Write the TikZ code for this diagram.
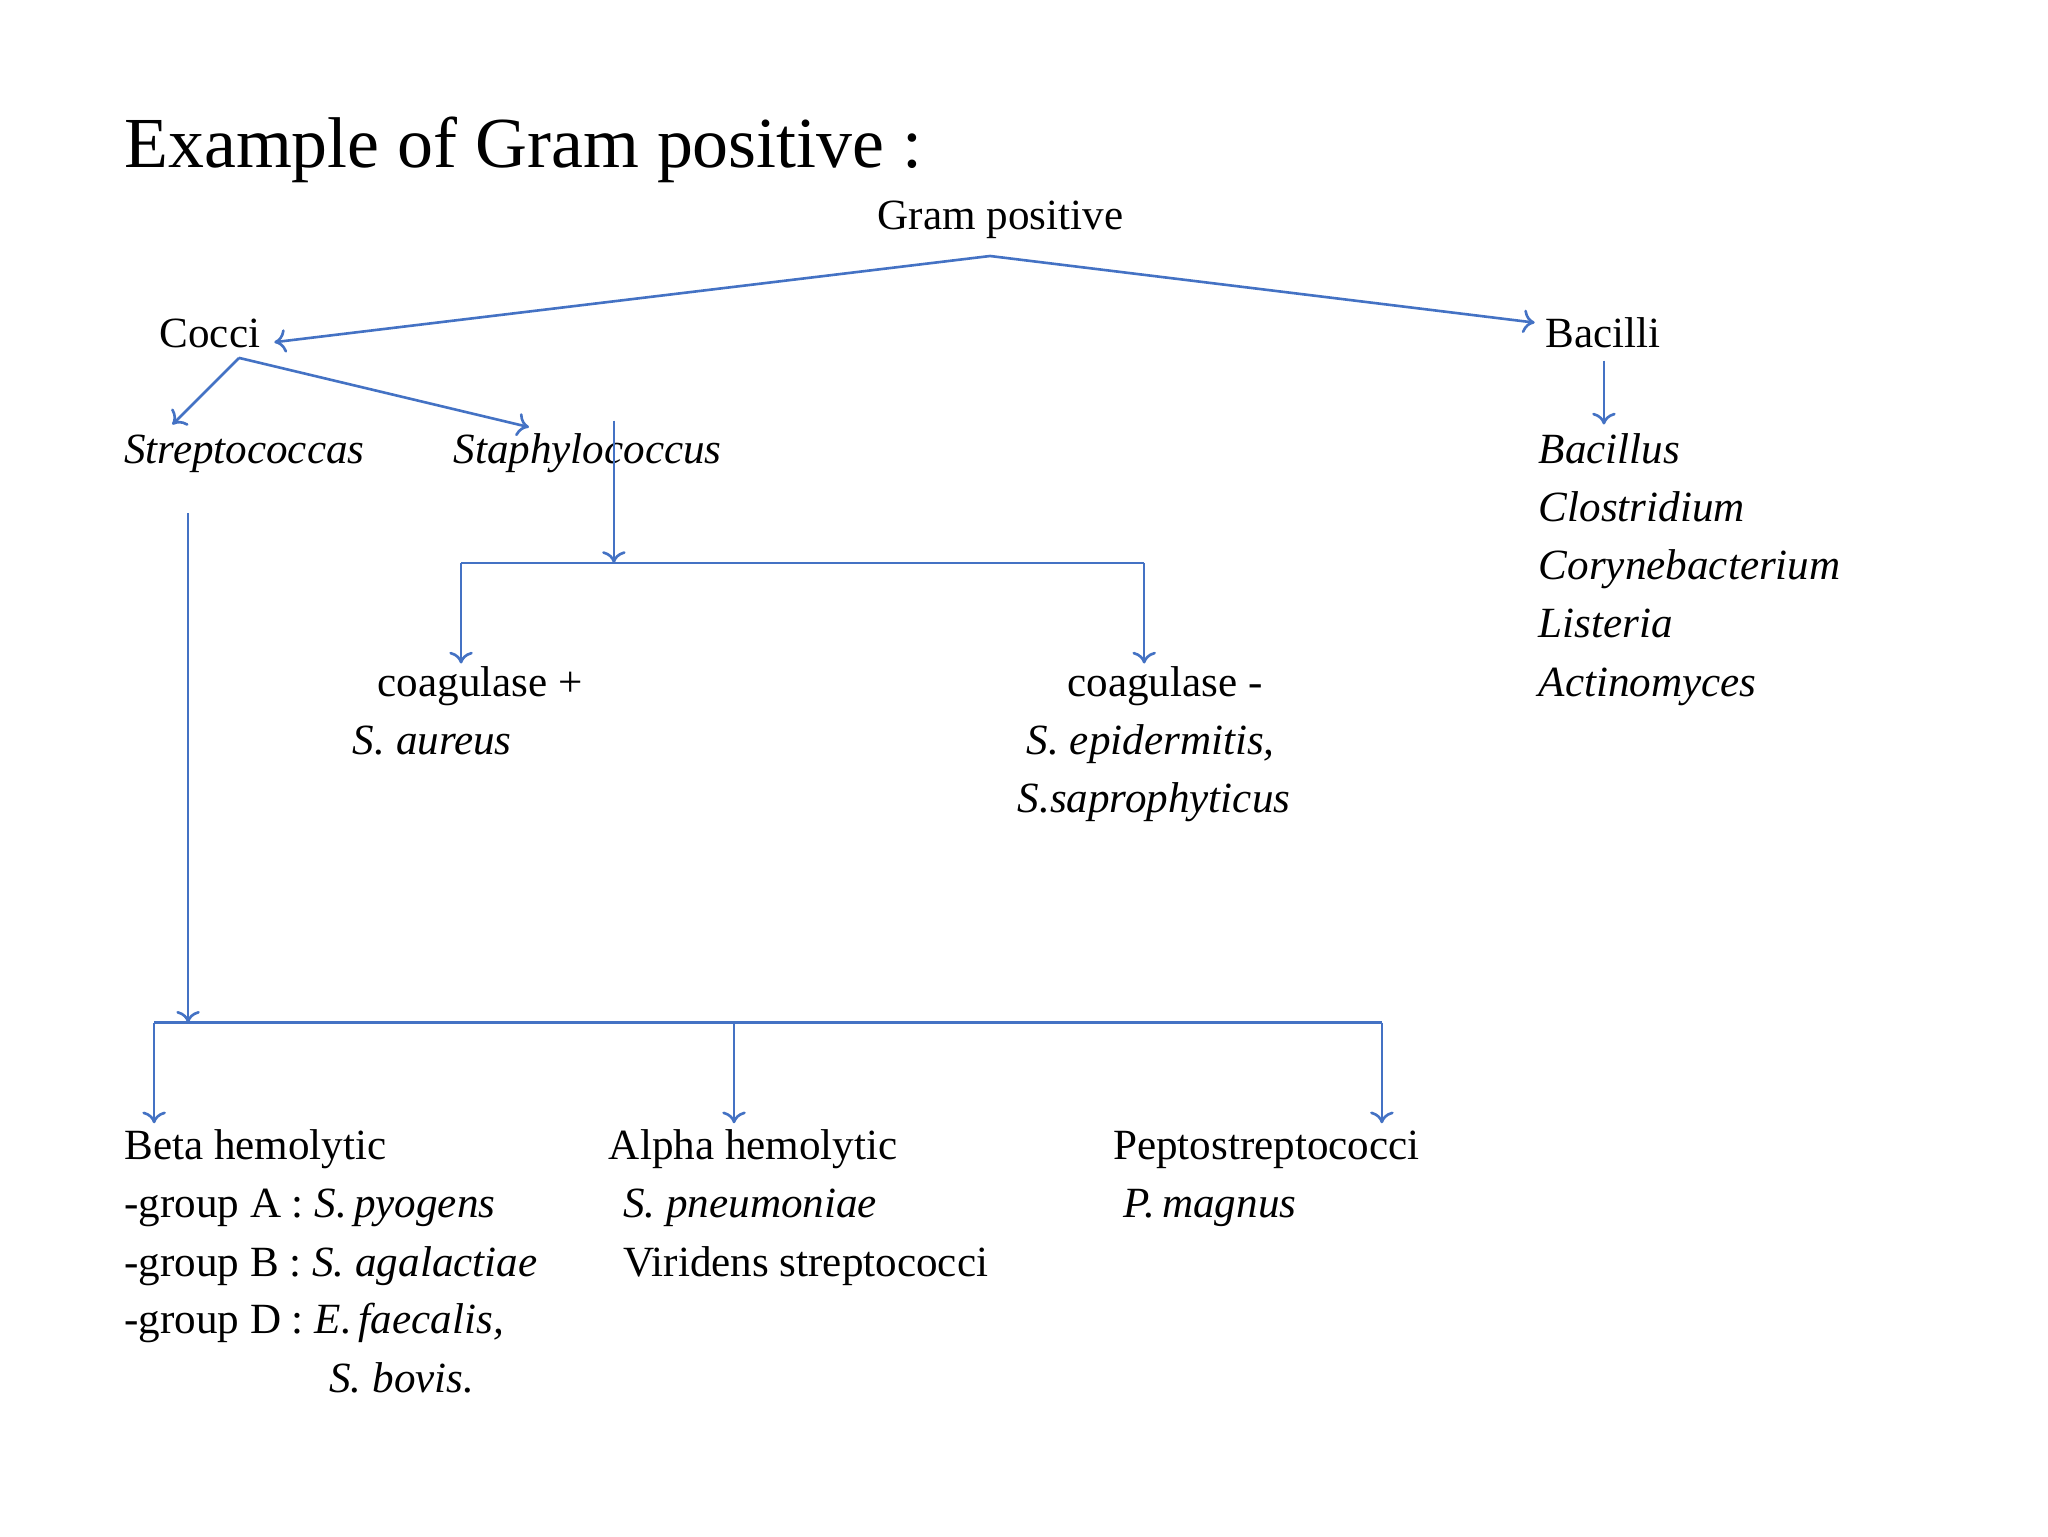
\documentclass[tikz,border=0pt]{standalone}
\usepackage{fontspec}
\setmainfont{Liberation Serif}
\usetikzlibrary{arrows.meta}
\definecolor{ln}{RGB}{68,114,196}
\begin{document}
\begin{tikzpicture}[x=1pt,y=-1pt,
  t/.style={anchor=base west,inner sep=0pt,font=\fontsize{33}{38}\selectfont},
  ti/.style={t,font=\fontsize{33}{38}\selectfont\itshape},
  ar/.style={draw=ln,line width=2pt,-{To[length=9pt,width=18pt]}},
  ln/.style={draw=ln,line width=2pt}]
\useasboundingbox[fill=white] (0,0) rectangle (1568,1176);
\node[anchor=base west,inner sep=0pt,font=\fontsize{55}{60}\selectfont] (title) at (95,128) {Example of Gram positive :};
\node[t,anchor=base] (gp) at (766,176) {Gram positive};
\node[t] (cocci) at (122,266) {Cocci};
\node[t] (bac) at (1183,266) {Bacilli};
\node[ti] (strep) at (95,355) {Streptococcas};
\node[ti] (staph) at (347,355) {Staphylococcus};
\node[t] (cp) at (289,533) {coagulase +};
\node[ti] (sa) at (270,578) {S. aureus};
\node[t] (cm) at (817,533) {coagulase -};
\node[ti] (se) at (786,578) {S. epidermitis,};
\node[ti] (ss) at (779,622) {S.saprophyticus};
\node[ti] (b1) at (1178,355) {Bacillus};
\node[ti] (b2) at (1178,399) {Clostridium};
\node[ti] (b3) at (1178,444) {Corynebacterium};
\node[ti] (b4) at (1178,488) {Listeria};
\node[ti] (b5) at (1178,533) {Actinomyces};
\node[t] (beta) at (95,888) {Beta hemolytic};
\node[t] (ga) at (95,932) {-group A : \textit{S.\,pyogens}};
\node[t] (gb) at (95,977) {-group B : \textit{S. agalactiae}};
\node[t] (gd) at (95,1021) {-group D : \textit{E.\,faecalis,}};
\node[ti] (sb) at (252,1066) {S. bovis.};
\node[t] (alpha) at (466,888) {Alpha hemolytic};
\node[ti] (sp) at (477,932) {S. pneumoniae};
\node[t] (vir) at (477,977) {Viridens streptococci};
\node[t] (pep) at (852,888) {Peptostreptococci};
\node[ti] (pm) at (860,932) {P.\,magnus};
% connectors
\coordinate (g0) at (758,196);
\coordinate (c0) at (183,274);
\coordinate (s0) at (470,322);
\coordinate (s1) at (470,431);
\coordinate (h1) at (353,431);
\coordinate (h2) at (876,431);
\coordinate (b0) at (1228,276);
\coordinate (r0) at (144,393);
\coordinate (r1) at (144,783);
\coordinate (q1) at (118,783);
\coordinate (q2) at (562,783);
\coordinate (q3) at (1058,783);
\draw[ar] (g0) -- (210,262);
\draw[ar] (g0) -- (1175,247);
\draw[ar] (c0) -- (132,325);
\draw[ar] (c0) -- (405,327);
\draw[ar] (s0) -- (s1);
\draw[ln] (h1) -- (h2);
\draw[ar] (h1) -- (353,508);
\draw[ar] (h2) -- (876,508);
\draw[ar] (b0) -- (1228,325);
\draw[ar] (r0) -- (r1);
\draw[ln] (q1) -- (q3);
\draw[ar] (q1) -- (118,860);
\draw[ar] (q2) -- (562,860);
\draw[ar] (q3) -- (1058,860);
\end{tikzpicture}
\end{document}
